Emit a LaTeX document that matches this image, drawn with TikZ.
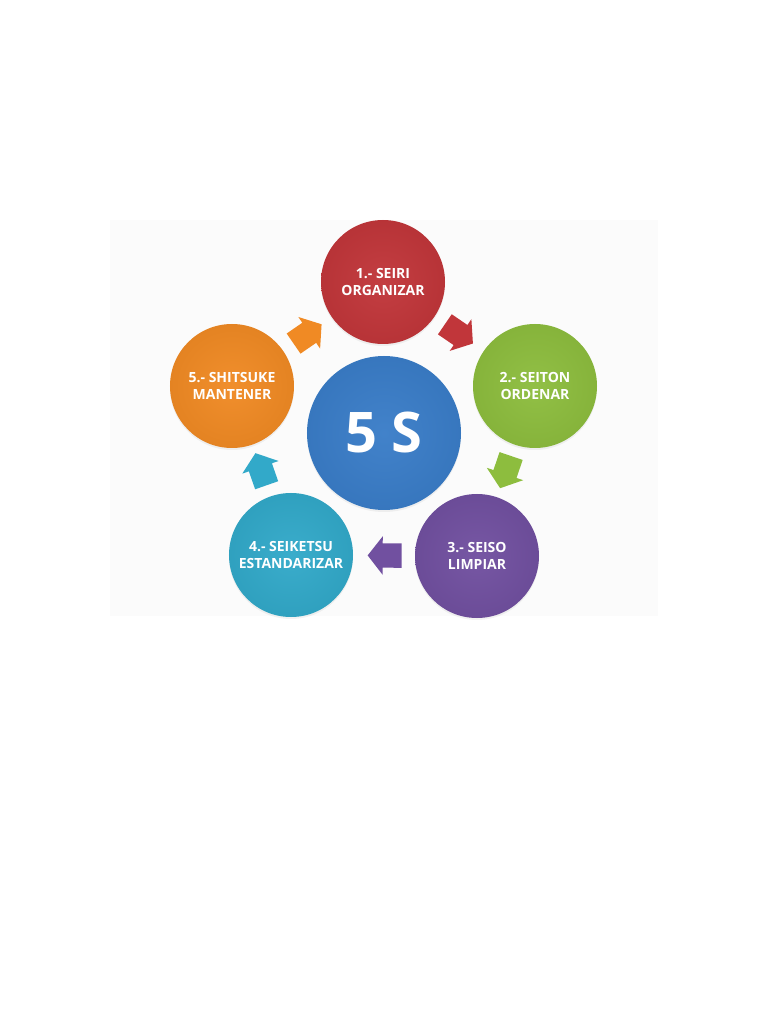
\documentclass[tikz,border=0pt]{standalone}
\usepackage{fontspec}
\setmainfont{Open Sans}
\usetikzlibrary{shapes.arrows,shadows}

\definecolor{seiriRed}{RGB}{193,54,58}
\definecolor{seitonGreen}{RGB}{141,189,62}
\definecolor{seisoPurple}{RGB}{113,80,160}
\definecolor{seiketsuTeal}{RGB}{50,169,201}
\definecolor{shitsukeOrange}{RGB}{240,138,36}
\definecolor{coreBlue}{RGB}{58,125,200}
\definecolor{paper}{RGB}{251,251,251}

\begin{document}
\begin{tikzpicture}[x=1pt,y=1pt,
    stage/.style={circle,minimum size=124pt,inner sep=0pt,align=center,
                  text=white,font=\bfseries\fontsize{14}{17.5}\selectfont,
                  shade,inner color=#1!96!white,outer color=#1!95!black,
                  drop shadow={opacity=0.10,shadow xshift=0pt,shadow yshift=-2pt}},
    turn/.style={single arrow,minimum height=34pt,minimum width=38pt,
                 single arrow head extend=7pt,single arrow head indent=0pt,
                 single arrow tip angle=104,
                 inner xsep=0pt,inner ysep=12pt,fill=#1,
                 sloped,allow upside down,anchor=tail,pos=.21}]

  \useasboundingbox (-384,-591) rectangle (384,433);
  \fill[paper] (-274,-183) rectangle (274,213);

  \node[stage=coreBlue,minimum size=154pt,
        font=\bfseries\fontsize{56}{60}\selectfont] (core) at (0,0)    {5 S};
  \node[stage=seiriRed]       (seiri)    at (-1,151)   {1.- SEIRI\\ORGANIZAR};
  \node[stage=seitonGreen]    (seiton)   at (151,47)   {2.- SEITON\\ORDENAR};
  \node[stage=seisoPurple]    (seiso)    at (93,-123)  {3.- SEISO\\LIMPIAR};
  \node[stage=seiketsuTeal]   (seiketsu) at (-93,-122) {4.- SEIKETSU\\ESTANDARIZAR};
  \node[stage=shitsukeOrange] (shitsuke) at (-152,47)  {5.- SHITSUKE\\MANTENER};

  \path (seiri)    -- (seiton)   node[turn=seiriRed]       {}
        (seiton)   -- (seiso)    node[turn=seitonGreen]    {}
        (seiso)    -- (seiketsu) node[turn=seisoPurple]    {}
        (seiketsu) -- (shitsuke) node[turn=seiketsuTeal]   {}
        (shitsuke) -- (seiri)    node[turn=shitsukeOrange] {};
\end{tikzpicture}
\end{document}
